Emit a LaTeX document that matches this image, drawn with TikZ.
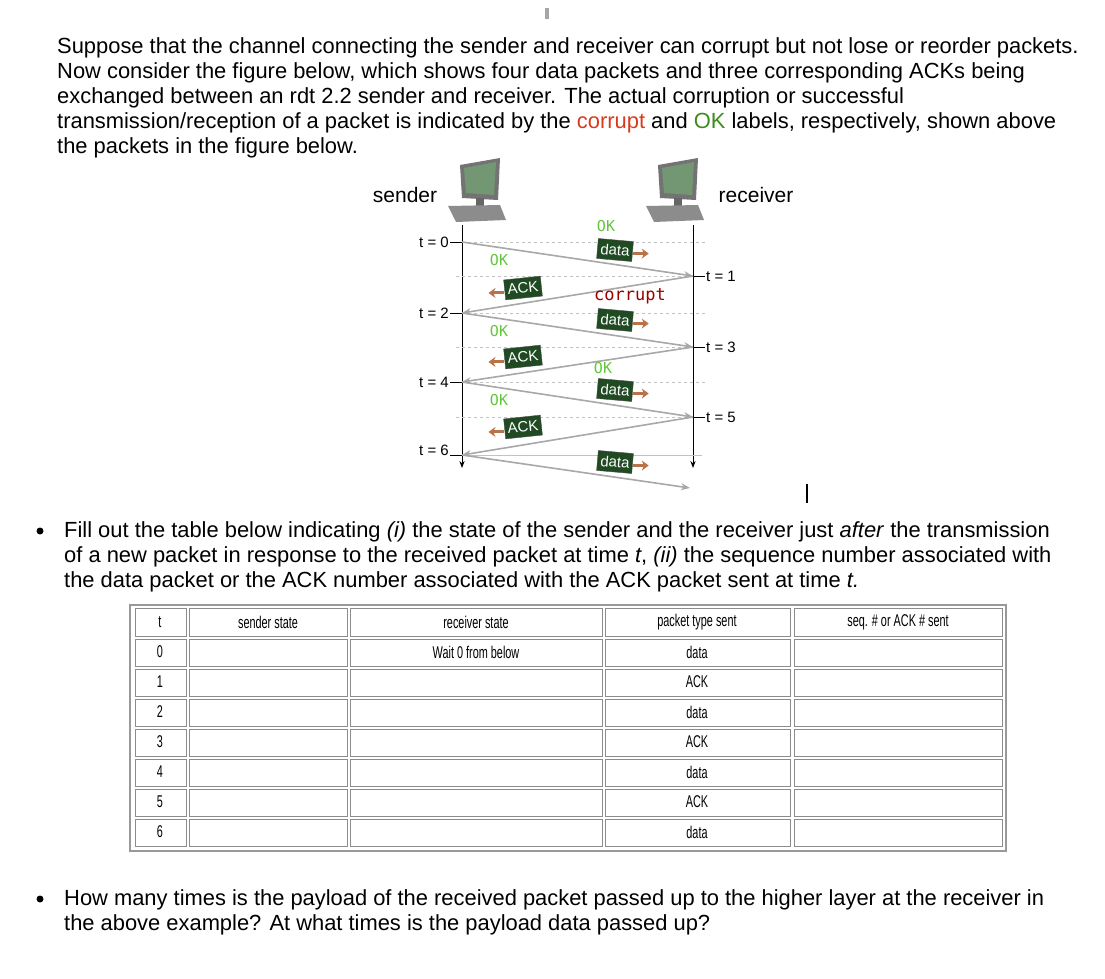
\documentclass[tikz,border=0pt]{standalone}
\usepackage{fontspec}
\setmainfont{Liberation Sans}
\newfontfamily\monof{DejaVu Sans Mono}
\newfontfamily\narrowf[FakeStretch=0.64]{Liberation Sans}
\usetikzlibrary{arrows.meta,calc}
\definecolor{boxg}{HTML}{1F4A22}
\definecolor{okg}{HTML}{62C63C}
\definecolor{arr}{HTML}{B8734A}
\definecolor{lin}{HTML}{A8A8A8}
\definecolor{redc}{HTML}{D93A1B}
\definecolor{greenc}{HTML}{3C8C1C}
\tikzset{
 body/.style={anchor=base west,inner sep=0pt,font=\fontsize{21.9}{25}\selectfont},
 tlab/.style={font=\fontsize{15}{18}\selectfont,inner sep=0pt},
 pkt/.style={fill=boxg,draw=black!70,text=white,font=\fontsize{15}{16}\selectfont,inner xsep=3pt,inner ysep=2pt,minimum height=20pt},
 oklab/.style={text=okg,font=\monof\fontsize{15}{16}\selectfont,inner sep=0pt},
 msg/.style={draw=lin,line width=1.6pt,-{Stealth[length=9pt,width=7pt]}},
 dsh/.style={draw=lin!70,dashed,line width=0.7pt},
 small/.style={draw=arr,line width=3pt,-{Stealth[length=7pt,width=10pt]}},
 cell/.style={draw=black!45,line width=0.8pt},
 tcell/.style={font=\narrowf\fontsize{17}{18}\selectfont,inner sep=0pt}
}
\begin{document}
\begin{tikzpicture}[x=1pt,y=-1pt]
\useasboundingbox (0,0) rectangle (1105,978);
\fill[black!35] (545,8) rectangle (549,19);
% paragraph
\node[body] (p1) at (57,53) {Suppose that the channel connecting the sender and receiver can corrupt but not lose or reorder packets.};
\node[body] (p2) at (57,78) {Now consider the figure below, which shows four data packets and three corresponding ACKs being};
\node[body] (p3) at (57,103) {exchanged between an rdt 2.2 sender and receiver. The actual corruption or successful};
\node[body] (p4) at (57,128) {transmission/reception of a packet is indicated by the \textcolor{redc}{corrupt} and \textcolor{greenc}{OK} labels, respectively, shown above};
\node[body] (p5) at (57,153) {the packets in the figure below.};
% computers
\foreach \cx/\nm in {478/sc,676/rc}{
 \fill[black!55] (\cx-18,165) -- (\cx+22,158) -- (\cx+20,200) -- (\cx-16,198) -- cycle;
 \fill[green!25!black!55] (\cx-14,168) -- (\cx+18,162) -- (\cx+16,195) -- (\cx-12,193) -- cycle;
 \fill[black!60] (\cx-2,198) rectangle (\cx+6,206);
 \fill[black!45] (\cx-30,206) -- (\cx+22,205) -- (\cx+28,220) -- (\cx-22,222) -- cycle;
 \coordinate (\nm) at (\cx,200);
}
\node[font=\fontsize{21}{22}\selectfont] (snd) at (405,195) {sender};
\node[font=\fontsize{21}{22}\selectfont] (rcv) at (756,195) {receiver};
% time lines
\coordinate (s0) at (462,242); \coordinate (s2) at (462,313); \coordinate (s4) at (462,382); \coordinate (s6) at (462,455);
\coordinate (r1) at (693,276); \coordinate (r3) at (693,347); \coordinate (r5) at (693,417);
\coordinate (sEnd) at (462,468); \coordinate (rEnd) at (693,468);
\coordinate (sTop) at (462,225); \coordinate (rTop) at (693,225);
\coordinate (rLast) at (690,488);
\draw[line width=1pt,-{Stealth[length=7pt]}] (sTop) -- (sEnd);
\draw[line width=1pt,-{Stealth[length=7pt]}] (rTop) -- (rEnd);
\foreach \c in {s0,s2,s4}{\draw[dsh] (\c) -- ++(245,0);}
\draw[lin!70,line width=0.7pt] (s6) -- ++(240,0);
\foreach \c in {r1,r3,r5}{\draw[dsh] (\c) -- ++(-240,0);}
\foreach \c/\t in {s0/0,s2/2,s4/4}{\draw (\c) -- ++(-12,0) node[tlab,anchor=east,inner sep=1pt] {t = \t};}
\draw (s6) -- ++(-12,0) node[tlab,anchor=south east,inner sep=1pt,yshift=-2pt] {t = 6};
\foreach \c/\t in {r1/1,r3/3,r5/5}{\draw (\c) -- ++(12,0) node[tlab,anchor=west,inner sep=1pt] {t = \t};}
% messages
\draw[msg] (s0) -- (r1); \draw[msg] (r1) -- (s2);
\draw[msg] (s2) -- (r3); \draw[msg] (r3) -- (s4);
\draw[msg] (s4) -- (r5); \draw[msg] (r5) -- (s6);
\draw[msg] (s6) -- (rLast);
% packet boxes
\foreach \y/\n in {250/d0,320/d2,390/d4,462/d6}{
 \node[pkt,rotate=-5] (\n) at (615,\y) {data};
 \draw[small] ($(\n.east)+(0,2)$) -- ++(16,0);
}
\foreach \y/\n in {288/a1,357/a3,427/a5}{
 \node[pkt,rotate=6] (\n) at (523,\y) {ACK};
 \draw[small] ($(\n.west)+(0,3)$) -- ++(-16,0);
}
\node[oklab] (ok0) at (606,226) {OK};
\node[oklab] (ok1) at (499,260) {OK};
\node[text=red!60!black,font=\monof\fontsize{17}{18}\selectfont,inner sep=0pt] (cor) at (630,296) {corrupt};
\node[oklab] (ok3) at (499,331) {OK};
\node[oklab] (ok4) at (603,368) {OK};
\node[oklab] (ok5) at (499,400) {OK};
\fill (806,484) rectangle (808,503);
% bullet 1
\fill (40,531) circle (3.5pt);
\node[body] (b1a) at (64,537) {Fill out the table below indicating \textit{(i)} the state of the sender and the receiver just \textit{after} the transmission};
\node[body] (b1b) at (64,562) {of a new packet in response to the received packet at time \textit{t}, \textit{(ii)} the sequence number associated with};
\node[body] (b1c) at (64,587) {the data packet or the ACK number associated with the ACK packet sent at time \textit{t.}};
% table
\draw[black!40,line width=1.2pt] (130,605) rectangle (1006,851);
\foreach \xa/\xb [count=\ci] in {135/186,189/347,350/602,605/790,794/1002}{
 \draw[cell] (\xa,608) rectangle (\xb,636);
 \foreach \r in {0,...,6}{\draw[cell] (\xa,639+30*\r) rectangle (\xb,666+30*\r);}
}
\node[tcell] (h1) at (160,622) {t};
\node[tcell] (h2) at (268,622) {sender state};
\node[tcell] (h3) at (476,622) {receiver state};
\node[tcell] (h4) at (697,622) {packet type sent};
\node[tcell] (h5) at (898,622) {seq. \# or ACK \# sent};
\foreach \r/\p in {0/data,1/ACK,2/data,3/ACK,4/data,5/ACK,6/data}{
 \node[tcell] (t\r) at (160,652+30*\r) {\r};
 \node[tcell] (pk\r) at (697,652+30*\r) {\p};
}
\node[tcell] (w0) at (476,652) {Wait 0 from below};
% bullet 2
\fill (40,899) circle (3.5pt);
\node[body] (b2a) at (64,905) {How many times is the payload of the received packet passed up to the higher layer at the receiver in};
\node[body] (b2b) at (64,930) {the above example? At what times is the payload data passed up?};
\end{tikzpicture}
\end{document}
